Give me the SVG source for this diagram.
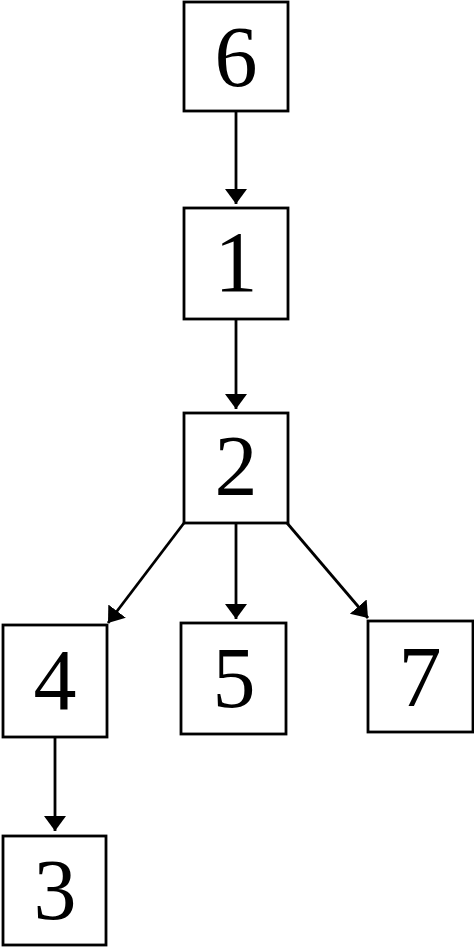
<svg xmlns="http://www.w3.org/2000/svg" width="474" height="948" viewBox="0 0 474 948">
<style>
.box{fill:#fff;stroke:#000;stroke-width:2.8}
.lbl{font-family:"Liberation Serif","Times New Roman",serif;font-size:86px;text-anchor:middle;fill:#000}
.edge{stroke:#000;stroke-width:2.8;fill:none;marker-end:url(#ah)}
</style>
<defs>
<marker id="ah" markerUnits="userSpaceOnUse" markerWidth="24" markerHeight="24" refX="15" refY="11" orient="auto">
<path d="M0,0 L15,11 L0,22 Z" fill="#000"/>
</marker>
</defs>
<rect width="474" height="948" fill="#fff"/>
<g id="connectors">
<line class="edge" x1="236" y1="111" x2="236" y2="204"/>
<line class="edge" x1="236" y1="319" x2="236" y2="409"/>
<line class="edge" x1="236" y1="523" x2="236" y2="619"/>
<line class="edge" x1="184" y1="523" x2="108" y2="623"/>
<line class="edge" x1="287" y1="523" x2="368" y2="618"/>
<line class="edge" x1="55" y1="737" x2="55" y2="831"/>
</g>
<g id="n6"><rect class="box" x="184" y="2" width="104" height="109"/><text class="lbl" x="236" y="86">6</text></g>
<g id="n1"><rect class="box" x="184" y="208" width="104" height="111"/><text class="lbl" x="236" y="291">1</text></g>
<g id="n2"><rect class="box" x="184" y="413" width="104" height="110"/><text class="lbl" x="236" y="495">2</text></g>
<g id="n4"><rect class="box" x="3" y="625" width="104" height="112"/><text class="lbl" x="55" y="709">4</text></g>
<g id="n5"><rect class="box" x="181" y="623" width="105" height="111"/><text class="lbl" x="234" y="707">5</text></g>
<g id="n7"><rect class="box" x="368" y="621" width="105" height="111"/><text class="lbl" x="420" y="706">7</text></g>
<g id="n3"><rect class="box" x="3" y="836" width="103" height="109"/><text class="lbl" x="55" y="919">3</text></g>
</svg>
